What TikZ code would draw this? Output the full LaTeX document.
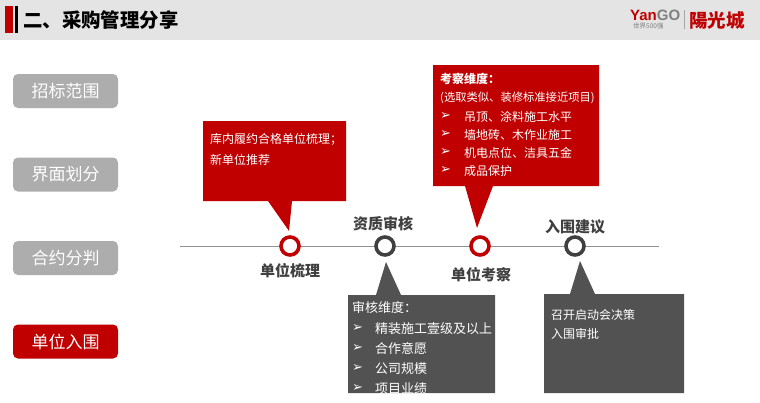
\documentclass[tikz,border=0pt]{standalone}
\usepackage{fontspec}
\setmainfont{Noto Sans CJK SC}
\newfontfamily\arrowfont{DejaVu Sans}
\newfontfamily\latinfont{Liberation Sans}
\definecolor{hdr}{HTML}{E4E4E4}
\definecolor{brandred}{HTML}{C00000}
\definecolor{darkbox}{HTML}{525252}
\definecolor{sidegray}{HTML}{ADADAD}
\definecolor{labelgray}{HTML}{404040}
\tikzset{
  x=1pt,y=-1pt,
  sidebtn/.style={rounded corners=5pt,minimum width=105pt,minimum height=34pt,inner sep=0pt,text=white,font=\fontsize{17}{17}\selectfont},
  stagering/.style={circle,line width=3.6pt,minimum size=18pt,inner sep=0pt,outer sep=0pt,fill=white},
  stagelabel/.style={inner sep=0pt,text=labelgray,font=\fontsize{15}{15}\selectfont\bfseries},
  boxtext/.style={anchor=west,inner sep=0pt,text=white,font=\fontsize{12}{12}\selectfont},
  darktext/.style={boxtext,font=\fontsize{13}{13}\selectfont},
  bullet/.style={anchor=west,inner sep=0pt,text=white,font=\arrowfont\fontsize{13}{13}\selectfont},
}
\begin{document}
\begin{tikzpicture}
\useasboundingbox (0,0) rectangle (760,402);
\fill[white] (0,0) rectangle (760,402);
% header
\fill[hdr] (0,0) rectangle (760,40);
\fill[brandred] (5,6) rectangle (13,33);
\fill[black] (15,6) rectangle (17.5,33);
\node[anchor=west,inner sep=0pt,text=black,font=\fontsize{19.4}{19.4}\selectfont\bfseries] (title) at (23,20) {二、采购管理分享};
% logo
\node[anchor=west,inner sep=0pt,text=brandred,font=\latinfont\fontsize{15}{15}\selectfont\bfseries] (logoa) at (630,15) {Yan\textcolor{gray}{GO}};
\node[anchor=west,inner sep=0pt,text=gray,font=\fontsize{6.5}{6.5}\selectfont] (logob) at (633,26.5) {世界500强};
\fill[gray!70] (683.5,10) rectangle (684.2,29);
\node[anchor=west,inner sep=0pt,text=brandred,font=\fontsize{18.5}{18.5}\selectfont\bfseries] (logoc) at (689,20) {陽光城};
% side buttons
\node[sidebtn,fill=sidegray] (s1) at (65.5,91) {招标范围};
\node[sidebtn,fill=sidegray] (s2) at (65.5,174.5) {界面划分};
\node[sidebtn,fill=sidegray] (s3) at (65.5,258) {合约分判};
\node[sidebtn,fill=brandred] (s4) at (65.5,341.5) {单位入围};
% timeline
\coordinate (tlstart) at (180,246);
\coordinate (tlend) at (659,246);
\draw[gray!85,line width=0.9pt] (tlstart) -- (tlend);
% callouts
\fill[brandred] (203,121) -- (346,121) -- (346,201) -- (292,201) -- (289,231) -- (268,201) -- (203,201) -- cycle;
\fill[brandred] (433,65) -- (599,65) -- (599,186) -- (493,186) -- (477,228) -- (465,186) -- (433,186) -- cycle;
\fill[darkbox] (348,295) -- (376,295) -- (386,262) -- (401,295) -- (495,295) -- (495,393) -- (348,393) -- cycle;
\fill[darkbox] (544,294) -- (570,294) -- (580,261) -- (595,294) -- (684,294) -- (684,393) -- (544,393) -- cycle;
% rings
\node[stagering,draw=brandred] (r1) at (290,246) {};
\node[stagering,draw=labelgray] (r2) at (385,246) {};
\node[stagering,draw=brandred] (r3) at (480,246) {};
\node[stagering,draw=labelgray] (r4) at (575,246) {};
% stage labels
\node[stagelabel] (l1) at (290,271) {单位梳理};
\node[stagelabel] (l2) at (383,224) {资质审核};
\node[stagelabel] (l3) at (481,275) {单位考察};
\node[stagelabel] (l4) at (575,227) {入围建议};
% red box 1
\node[boxtext] (a1) at (210,139) {库内履约合格单位梳理；};
\node[boxtext] (a2) at (210,160) {新单位推荐};
% red box 2
\node[boxtext,font=\fontsize{12}{12}\selectfont\bfseries] (b0) at (440,79) {考察维度：};
\node[boxtext,font=\fontsize{11.3}{12}\selectfont] (b1) at (440,98) {(选取类似、装修标准接近项目)};
\node[bullet] (bb2) at (440,116.5) {➢};
\node[boxtext] (b2) at (464,117) {吊顶、涂料施工水平};
\node[bullet] (bb3) at (440,134.5) {➢};
\node[boxtext] (b3) at (464,135) {墙地砖、木作业施工};
\node[bullet] (bb4) at (440,152.5) {➢};
\node[boxtext] (b4) at (464,153) {机电点位、洁具五金};
\node[bullet] (bb5) at (440,170.5) {➢};
\node[boxtext] (b5) at (464,171) {成品保护};
% dark box 1
\begin{scope}
\clip (348,295) rectangle (495,393);
\node[darktext] (c0) at (352,308) {审核维度：};
\node[bullet] (cb1) at (352,328.5) {➢};
\node[darktext] (c1) at (375,329) {精装施工壹级及以上};
\node[bullet] (cb2) at (352,348.5) {➢};
\node[darktext] (c2) at (375,349) {合作意愿};
\node[bullet] (cb3) at (352,368.5) {➢};
\node[darktext] (c3) at (375,369) {公司规模};
\node[bullet] (cb4) at (352,388.5) {➢};
\node[darktext] (c4) at (375,389) {项目业绩};
\end{scope}
% dark box 2
\node[boxtext] (d1) at (551,315) {召开启动会决策};
\node[boxtext] (d2) at (551,334) {入围审批};
\end{tikzpicture}
\end{document}
